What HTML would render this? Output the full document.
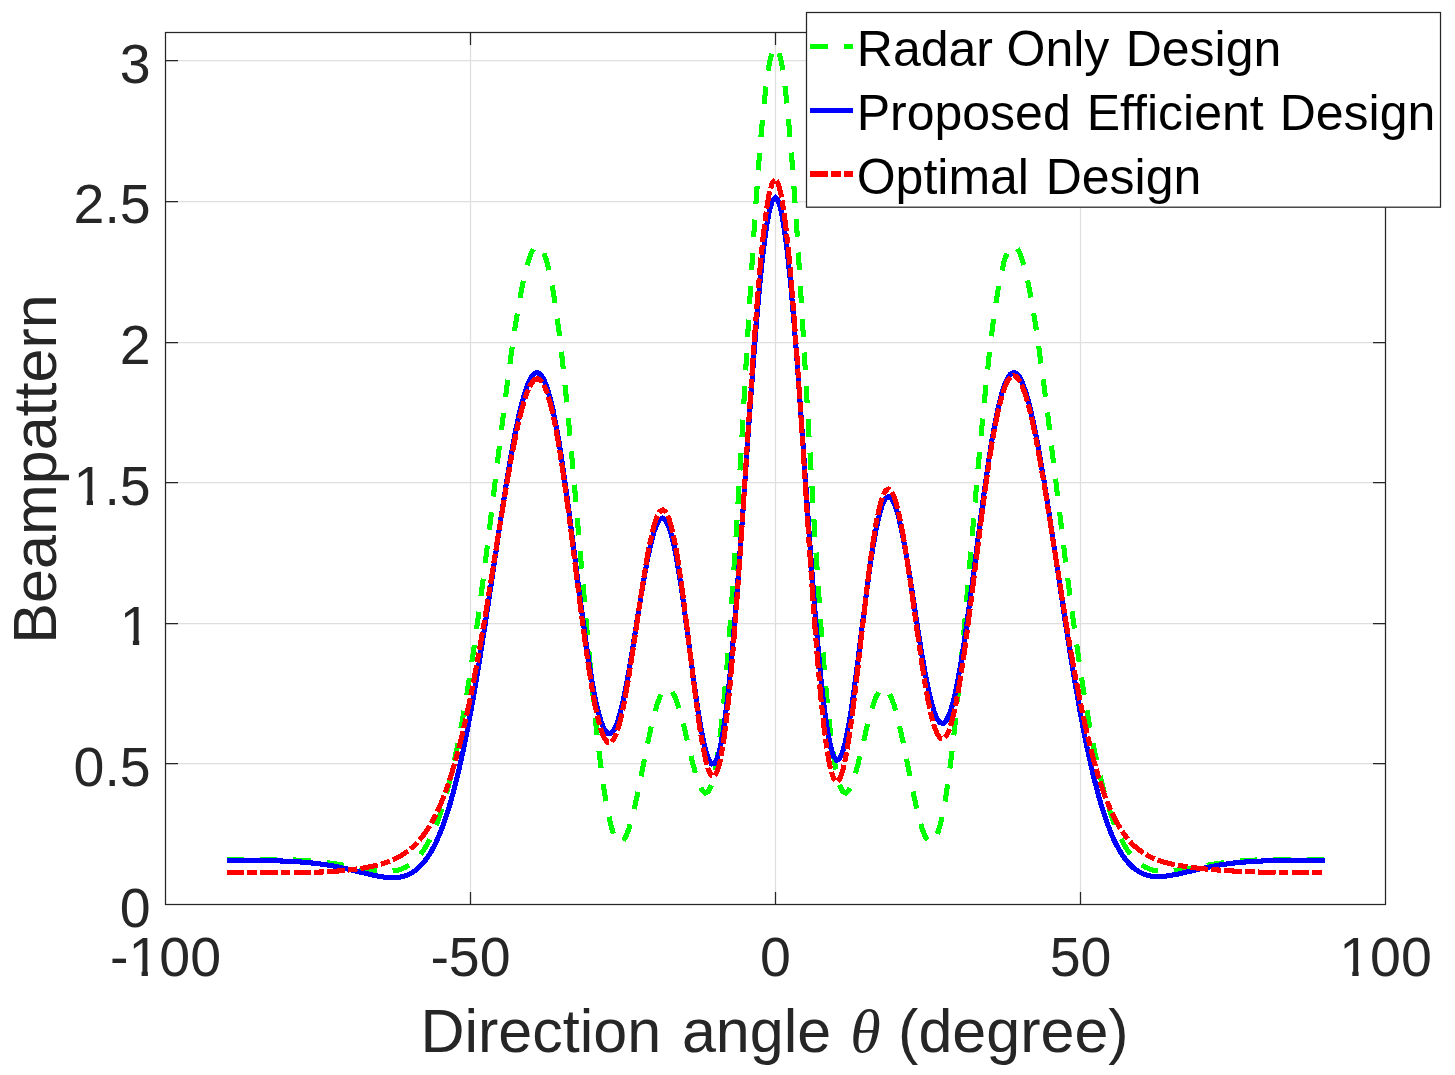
<!DOCTYPE html>
<html lang="en"><head><meta charset="utf-8"><title>Beampattern</title>
<style>
html,body{margin:0;padding:0;background:#fff;}
body{width:1455px;height:1075px;overflow:hidden;}
svg{display:block;}
text{font-family:"Liberation Sans",Arial,Helvetica,sans-serif;}
.tk{font-size:55.5px;fill:#262626;}
.lb{font-size:61px;fill:#262626;}
.lg{font-size:50px;fill:#000;}
.th{font-family:"Liberation Serif","DejaVu Serif",serif;font-style:italic;}
</style></head><body>
<svg width="1455" height="1075" viewBox="0 0 1455 1075">
<rect x="0" y="0" width="1455" height="1075" fill="#fff"/>
<path d="M470.50,32.5 V904.5 M775.50,32.5 V904.5 M1080.50,32.5 V904.5 M165.5,763.50 H1385.5 M165.5,623.50 H1385.5 M165.5,482.50 H1385.5 M165.5,342.50 H1385.5 M165.5,201.50 H1385.5 M165.5,60.50 H1385.5" stroke="#dfdfdf" stroke-width="1.25" fill="none"/>
<g fill="none" stroke-width="5.1" stroke-linejoin="round" stroke-linecap="butt" shape-rendering="crispEdges">
<path d="M226.5,859.2 L229.6,859.2 L232.6,859.2 L235.6,859.2 L238.7,859.2 L241.8,859.2 L244.8,859.2 L247.9,859.2 L250.9,859.2 L254.0,859.2 L257.0,859.2 L260.1,859.2 L263.1,859.2 L266.2,859.3 L269.2,859.3 L272.3,859.3 L275.3,859.4 L278.4,859.4 L281.4,859.5 L284.5,859.6 L287.5,859.7 L290.6,859.8 L293.6,859.9 L296.7,860.1 L299.7,860.2 L302.8,860.4 L305.8,860.6 L308.9,860.8 L311.9,861.1 L315.0,861.3 L318.0,861.6 L321.1,862.0 L324.1,862.3 L327.2,862.7 L330.2,863.1 L333.2,863.5 L336.3,864.0 L339.4,864.5 L342.4,865.0 L345.5,865.5 L348.5,866.0 L351.6,866.6 L354.6,867.2 L357.7,867.7 L360.7,868.3 L363.8,868.9 L366.8,869.4 L369.9,869.9 L372.9,870.3 L376.0,870.7 L379.0,871.1 L382.1,871.3 L385.1,871.4 L388.2,871.4 L391.2,871.2 L394.2,870.8 L397.3,870.2 L400.4,869.4 L403.4,868.2 L406.5,866.7 L409.5,864.9 L412.6,862.6 L415.6,859.9 L418.7,856.6 L421.7,852.7 L424.8,848.3 L427.8,843.1 L430.9,837.2 L433.9,830.5 L437.0,823.0 L440.0,814.5 L443.1,805.1 L446.1,794.7 L449.2,783.2 L452.2,770.6 L455.2,756.8 L458.3,741.9 L461.4,725.9 L464.4,708.7 L467.5,690.3 L470.5,670.8 L473.6,650.2 L476.6,628.6 L479.7,606.1 L482.7,582.7 L485.8,558.6 L488.8,533.9 L491.9,508.8 L494.9,483.6 L497.9,458.3 L501.0,433.2 L504.1,408.5 L507.1,384.6 L510.2,361.7 L513.2,340.0 L516.2,319.9 L519.3,301.6 L522.4,285.5 L525.4,271.7 L528.5,260.6 L531.5,252.4 L534.5,247.4 L537.6,245.6 L540.6,247.2 L543.7,252.4 L546.8,261.2 L549.8,273.5 L552.9,289.4 L555.9,308.8 L559.0,331.3 L562.0,356.9 L565.0,385.1 L568.1,415.8 L571.1,448.4 L574.2,482.5 L577.2,517.6 L580.3,553.3 L583.4,588.9 L586.4,624.0 L589.5,658.0 L592.5,690.3 L595.5,720.5 L598.6,748.1 L601.6,772.6 L604.7,793.8 L607.8,811.4 L610.8,825.1 L613.9,834.9 L616.9,840.8 L620.0,842.8 L623.0,841.2 L626.0,836.1 L629.1,828.1 L632.1,817.4 L635.2,804.7 L638.2,790.4 L641.3,775.2 L644.4,759.7 L647.4,744.5 L650.5,730.1 L653.5,717.2 L656.5,706.3 L659.6,697.6 L662.6,691.6 L665.7,688.5 L668.8,688.4 L671.8,691.2 L674.9,696.7 L677.9,704.8 L681.0,714.9 L684.0,726.6 L687.0,739.3 L690.1,752.2 L693.1,764.5 L696.2,775.6 L699.2,784.6 L702.3,790.7 L705.4,793.2 L708.4,791.4 L711.5,784.8 L714.5,773.0 L717.5,755.5 L720.6,732.4 L723.6,703.7 L726.7,669.4 L729.8,630.2 L732.8,586.4 L735.9,538.9 L738.9,488.5 L742.0,436.1 L745.0,382.9 L748.0,330.0 L751.1,278.6 L754.1,229.9 L757.2,185.0 L760.2,144.9 L763.3,110.7 L766.4,83.2 L769.4,63.0 L772.5,50.7 L775.5,46.5 L778.5,50.7 L781.6,63.0 L784.6,83.2 L787.7,110.7 L790.8,144.9 L793.8,185.0 L796.9,229.9 L799.9,278.6 L803.0,330.0 L806.0,382.9 L809.0,436.1 L812.1,488.5 L815.1,538.9 L818.2,586.4 L821.2,630.2 L824.3,669.4 L827.4,703.7 L830.4,732.4 L833.5,755.5 L836.5,773.0 L839.5,784.8 L842.6,791.4 L845.6,793.2 L848.7,790.7 L851.8,784.6 L854.8,775.6 L857.9,764.5 L860.9,752.2 L864.0,739.3 L867.0,726.6 L870.0,714.9 L873.1,704.8 L876.1,696.7 L879.2,691.2 L882.2,688.4 L885.3,688.5 L888.4,691.6 L891.4,697.6 L894.5,706.3 L897.5,717.2 L900.5,730.1 L903.6,744.5 L906.6,759.7 L909.7,775.2 L912.8,790.4 L915.8,804.7 L918.9,817.4 L921.9,828.1 L925.0,836.1 L928.0,841.2 L931.0,842.8 L934.1,840.8 L937.1,834.9 L940.2,825.1 L943.2,811.4 L946.3,793.8 L949.4,772.6 L952.4,748.1 L955.5,720.5 L958.5,690.3 L961.5,658.0 L964.6,624.0 L967.6,588.9 L970.7,553.3 L973.8,517.6 L976.8,482.5 L979.9,448.4 L982.9,415.8 L986.0,385.1 L989.0,356.9 L992.0,331.3 L995.1,308.8 L998.1,289.4 L1001.2,273.5 L1004.2,261.2 L1007.3,252.4 L1010.4,247.2 L1013.4,245.6 L1016.5,247.4 L1019.5,252.4 L1022.5,260.6 L1025.6,271.7 L1028.7,285.5 L1031.7,301.6 L1034.8,319.9 L1037.8,340.0 L1040.8,361.7 L1043.9,384.6 L1047.0,408.5 L1050.0,433.2 L1053.0,458.3 L1056.1,483.6 L1059.2,508.8 L1062.2,533.9 L1065.2,558.6 L1068.3,582.7 L1071.3,606.1 L1074.4,628.6 L1077.5,650.2 L1080.5,670.8 L1083.5,690.3 L1086.6,708.7 L1089.7,725.9 L1092.7,741.9 L1095.8,756.8 L1098.8,770.6 L1101.8,783.2 L1104.9,794.7 L1108.0,805.1 L1111.0,814.5 L1114.0,823.0 L1117.1,830.5 L1120.2,837.2 L1123.2,843.1 L1126.2,848.3 L1129.3,852.7 L1132.3,856.6 L1135.4,859.9 L1138.5,862.6 L1141.5,864.9 L1144.5,866.7 L1147.6,868.2 L1150.7,869.4 L1153.7,870.2 L1156.8,870.8 L1159.8,871.2 L1162.8,871.4 L1165.9,871.4 L1169.0,871.3 L1172.0,871.1 L1175.0,870.7 L1178.1,870.3 L1181.2,869.9 L1184.2,869.4 L1187.2,868.9 L1190.3,868.3 L1193.3,867.7 L1196.4,867.2 L1199.5,866.6 L1202.5,866.0 L1205.5,865.5 L1208.6,865.0 L1211.7,864.5 L1214.7,864.0 L1217.8,863.5 L1220.8,863.1 L1223.8,862.7 L1226.9,862.3 L1230.0,862.0 L1233.0,861.6 L1236.0,861.3 L1239.1,861.1 L1242.2,860.8 L1245.2,860.6 L1248.2,860.4 L1251.3,860.2 L1254.3,860.1 L1257.4,859.9 L1260.5,859.8 L1263.5,859.7 L1266.5,859.6 L1269.6,859.5 L1272.7,859.4 L1275.7,859.4 L1278.8,859.3 L1281.8,859.3 L1284.8,859.3 L1287.9,859.2 L1290.9,859.2 L1294.0,859.2 L1297.0,859.2 L1300.1,859.2 L1303.2,859.2 L1306.2,859.2 L1309.2,859.2 L1312.3,859.2 L1315.3,859.2 L1318.4,859.2 L1321.4,859.2 L1324.5,859.2" stroke="#00ff00" stroke-dasharray="17.5 15.9"/>
<path d="M226.5,860.5 L229.6,860.5 L232.6,860.5 L235.6,860.5 L238.7,860.5 L241.8,860.5 L244.8,860.5 L247.9,860.5 L250.9,860.5 L254.0,860.5 L257.0,860.5 L260.1,860.5 L263.1,860.6 L266.2,860.6 L269.2,860.7 L272.3,860.7 L275.3,860.8 L278.4,860.9 L281.4,861.0 L284.5,861.1 L287.5,861.2 L290.6,861.3 L293.6,861.5 L296.7,861.7 L299.7,861.9 L302.8,862.1 L305.8,862.4 L308.9,862.6 L311.9,863.0 L315.0,863.3 L318.0,863.7 L321.1,864.1 L324.1,864.5 L327.2,865.0 L330.2,865.5 L333.2,866.0 L336.3,866.6 L339.4,867.2 L342.4,867.9 L345.5,868.5 L348.5,869.2 L351.6,869.9 L354.6,870.7 L357.7,871.4 L360.7,872.2 L363.8,872.9 L366.8,873.7 L369.9,874.4 L372.9,875.1 L376.0,875.7 L379.0,876.3 L382.1,876.8 L385.1,877.2 L388.2,877.5 L391.2,877.6 L394.2,877.6 L397.3,877.4 L400.4,877.0 L403.4,876.3 L406.5,875.3 L409.5,874.0 L412.6,872.3 L415.6,870.2 L418.7,867.7 L421.7,864.6 L424.8,861.0 L427.8,856.8 L430.9,852.0 L433.9,846.5 L437.0,840.2 L440.0,833.1 L443.1,825.3 L446.1,816.5 L449.2,806.9 L452.2,796.3 L455.2,784.8 L458.3,772.4 L461.4,758.9 L464.4,744.5 L467.5,729.2 L470.5,712.9 L473.6,695.8 L476.6,677.9 L479.7,659.2 L482.7,639.9 L485.8,620.0 L488.8,599.8 L491.9,579.3 L494.9,558.7 L497.9,538.1 L501.0,517.8 L504.1,498.0 L507.1,478.9 L510.2,460.6 L513.2,443.5 L516.2,427.8 L519.3,413.6 L522.4,401.2 L525.4,390.8 L528.5,382.5 L531.5,376.7 L534.5,373.3 L537.6,372.6 L540.6,374.5 L543.7,379.2 L546.8,386.6 L549.8,396.7 L552.9,409.4 L555.9,424.5 L559.0,441.9 L562.0,461.2 L565.0,482.3 L568.1,504.7 L571.1,528.1 L574.2,552.1 L577.2,576.3 L580.3,600.2 L583.4,623.4 L586.4,645.3 L589.5,665.7 L592.5,684.0 L595.5,699.9 L598.6,713.0 L601.6,723.1 L604.7,730.0 L607.8,733.5 L610.8,733.5 L613.9,730.2 L616.9,723.6 L620.0,714.0 L623.0,701.5 L626.0,686.7 L629.1,669.9 L632.1,651.7 L635.2,632.6 L638.2,613.2 L641.3,594.2 L644.4,576.1 L647.4,559.6 L650.5,545.2 L653.5,533.4 L656.5,524.7 L659.6,519.5 L662.6,518.0 L665.7,520.3 L668.8,526.5 L671.8,536.4 L674.9,549.8 L677.9,566.4 L681.0,585.6 L684.0,606.9 L687.0,629.6 L690.1,652.8 L693.1,675.9 L696.2,697.9 L699.2,718.1 L702.3,735.5 L705.4,749.4 L708.4,759.1 L711.5,764.0 L714.5,763.7 L717.5,757.8 L720.6,746.1 L723.6,728.7 L726.7,705.7 L729.8,677.5 L732.8,644.5 L735.9,607.5 L738.9,567.3 L742.0,524.7 L745.0,480.8 L748.0,436.7 L751.1,393.4 L754.1,352.2 L757.2,314.0 L760.2,279.8 L763.3,250.7 L766.4,227.3 L769.4,210.3 L772.5,200.2 L775.5,197.2 L778.5,201.4 L781.6,212.6 L784.6,230.7 L787.7,255.1 L790.8,285.1 L793.8,320.0 L796.9,358.7 L799.9,400.4 L803.0,443.8 L806.0,487.9 L809.0,531.5 L812.1,573.7 L815.1,613.3 L818.2,649.4 L821.2,681.4 L824.3,708.4 L827.4,730.0 L830.4,746.0 L833.5,756.0 L836.5,760.3 L839.5,758.9 L842.6,752.3 L845.6,740.9 L848.7,725.3 L851.8,706.2 L854.8,684.6 L857.9,661.1 L860.9,636.7 L864.0,612.3 L867.0,588.5 L870.0,566.4 L873.1,546.4 L876.1,529.2 L879.2,515.4 L882.2,505.2 L885.3,498.9 L888.4,496.6 L891.4,498.2 L894.5,503.7 L897.5,512.8 L900.5,525.0 L903.6,540.0 L906.6,557.1 L909.7,575.9 L912.8,595.6 L915.8,615.8 L918.9,635.7 L921.9,654.7 L925.0,672.2 L928.0,687.8 L931.0,701.0 L934.1,711.5 L937.1,718.8 L940.2,722.8 L943.2,723.4 L946.3,720.6 L949.4,714.3 L952.4,704.8 L955.5,692.3 L958.5,677.0 L961.5,659.2 L964.6,639.4 L967.6,617.9 L970.7,595.2 L973.8,571.8 L976.8,548.0 L979.9,524.4 L982.9,501.4 L986.0,479.4 L989.0,458.7 L992.0,439.7 L995.1,422.7 L998.1,407.9 L1001.2,395.5 L1004.2,385.8 L1007.3,378.6 L1010.4,374.2 L1013.4,372.5 L1016.5,373.5 L1019.5,377.0 L1022.5,383.1 L1025.6,391.5 L1028.7,402.0 L1031.7,414.6 L1034.8,428.9 L1037.8,444.8 L1040.8,462.0 L1043.9,480.3 L1047.0,499.4 L1050.0,519.3 L1053.0,539.6 L1056.1,560.1 L1059.2,580.7 L1062.2,601.1 L1065.2,621.3 L1068.3,641.1 L1071.3,660.3 L1074.4,678.9 L1077.5,696.8 L1080.5,713.8 L1083.5,729.9 L1086.6,745.2 L1089.7,759.5 L1092.7,772.8 L1095.8,785.1 L1098.8,796.5 L1101.8,807.0 L1104.9,816.5 L1108.0,825.1 L1111.0,832.9 L1114.0,839.9 L1117.1,846.0 L1120.2,851.5 L1123.2,856.2 L1126.2,860.4 L1129.3,863.9 L1132.3,866.9 L1135.4,869.4 L1138.5,871.4 L1141.5,873.1 L1144.5,874.3 L1147.6,875.3 L1150.7,876.0 L1153.7,876.4 L1156.8,876.6 L1159.8,876.6 L1162.8,876.4 L1165.9,876.1 L1169.0,875.7 L1172.0,875.2 L1175.0,874.6 L1178.1,874.0 L1181.2,873.3 L1184.2,872.6 L1187.2,871.9 L1190.3,871.2 L1193.3,870.5 L1196.4,869.7 L1199.5,869.0 L1202.5,868.4 L1205.5,867.7 L1208.6,867.1 L1211.7,866.5 L1214.7,865.9 L1217.8,865.3 L1220.8,864.8 L1223.8,864.4 L1226.9,863.9 L1230.0,863.5 L1233.0,863.1 L1236.0,862.8 L1239.1,862.5 L1242.2,862.2 L1245.2,862.0 L1248.2,861.7 L1251.3,861.5 L1254.3,861.3 L1257.4,861.2 L1260.5,861.1 L1263.5,860.9 L1266.5,860.8 L1269.6,860.8 L1272.7,860.7 L1275.7,860.6 L1278.8,860.6 L1281.8,860.5 L1284.8,860.5 L1287.9,860.5 L1290.9,860.5 L1294.0,860.5 L1297.0,860.5 L1300.1,860.4 L1303.2,860.4 L1306.2,860.4 L1309.2,860.4 L1312.3,860.4 L1315.3,860.5 L1318.4,860.5 L1321.4,860.5 L1324.5,860.5" stroke="#0000ff"/>
<path d="M226.5,872.6 L229.6,872.6 L232.6,872.6 L235.6,872.6 L238.7,872.6 L241.8,872.7 L244.8,872.7 L247.9,872.7 L250.9,872.7 L254.0,872.7 L257.0,872.7 L260.1,872.7 L263.1,872.7 L266.2,872.7 L269.2,872.7 L272.3,872.7 L275.3,872.7 L278.4,872.7 L281.4,872.7 L284.5,872.7 L287.5,872.7 L290.6,872.7 L293.6,872.7 L296.7,872.6 L299.7,872.6 L302.8,872.5 L305.8,872.5 L308.9,872.4 L311.9,872.3 L315.0,872.2 L318.0,872.1 L321.1,872.0 L324.1,871.9 L327.2,871.7 L330.2,871.5 L333.2,871.4 L336.3,871.1 L339.4,870.9 L342.4,870.6 L345.5,870.4 L348.5,870.0 L351.6,869.7 L354.6,869.3 L357.7,868.9 L360.7,868.5 L363.8,868.0 L366.8,867.4 L369.9,866.8 L372.9,866.2 L376.0,865.4 L379.0,864.6 L382.1,863.8 L385.1,862.8 L388.2,861.7 L391.2,860.5 L394.2,859.2 L397.3,857.7 L400.4,856.0 L403.4,854.1 L406.5,852.1 L409.5,849.7 L412.6,847.1 L415.6,844.2 L418.7,841.0 L421.7,837.4 L424.8,833.4 L427.8,828.9 L430.9,823.9 L433.9,818.4 L437.0,812.3 L440.0,805.6 L443.1,798.2 L446.1,790.1 L449.2,781.3 L452.2,771.7 L455.2,761.3 L458.3,750.1 L461.4,738.1 L464.4,725.1 L467.5,711.4 L470.5,696.8 L473.6,681.4 L476.6,665.2 L479.7,648.3 L482.7,630.8 L485.8,612.7 L488.8,594.1 L491.9,575.3 L494.9,556.3 L497.9,537.2 L501.0,518.3 L504.1,499.7 L507.1,481.7 L510.2,464.4 L513.2,448.1 L516.2,433.0 L519.3,419.3 L522.4,407.3 L525.4,397.1 L528.5,389.0 L531.5,383.1 L534.5,379.7 L537.6,378.7 L540.6,380.4 L543.7,384.8 L546.8,391.9 L549.8,401.7 L552.9,414.1 L555.9,429.0 L559.0,446.1 L562.0,465.4 L565.0,486.4 L568.1,508.9 L571.1,532.5 L574.2,556.7 L577.2,581.2 L580.3,605.5 L583.4,629.2 L586.4,651.6 L589.5,672.5 L592.5,691.3 L595.5,707.7 L598.6,721.3 L601.6,731.7 L604.7,738.9 L607.8,742.5 L610.8,742.5 L613.9,739.0 L616.9,732.0 L620.0,721.7 L623.0,708.6 L626.0,692.8 L629.1,674.9 L632.1,655.4 L635.2,635.0 L638.2,614.2 L641.3,593.6 L644.4,574.1 L647.4,556.1 L650.5,540.4 L653.5,527.5 L656.5,517.8 L659.6,511.8 L662.6,509.8 L665.7,511.9 L668.8,518.1 L671.8,528.4 L674.9,542.5 L677.9,560.1 L681.0,580.6 L684.0,603.4 L687.0,627.8 L690.1,652.9 L693.1,677.9 L696.2,701.9 L699.2,724.0 L702.3,743.2 L705.4,758.8 L708.4,769.9 L711.5,775.9 L714.5,776.3 L717.5,770.8 L720.6,759.1 L723.6,741.2 L726.7,717.3 L729.8,687.7 L732.8,653.1 L735.9,614.0 L738.9,571.4 L742.0,526.3 L745.0,479.7 L748.0,432.8 L751.1,386.8 L754.1,343.0 L757.2,302.4 L760.2,266.1 L763.3,235.2 L766.4,210.5 L769.4,192.7 L772.5,182.2 L775.5,179.4" stroke="#ff0000" stroke-dasharray="17.60 3.15 9.64 3.15"/>
<path d="M775.5,179.4 L778.5,184.3 L781.6,196.9 L784.6,216.8 L787.7,243.4 L790.8,276.0 L793.8,313.8 L796.9,355.7 L799.9,400.7 L803.0,447.5 L806.0,494.9 L809.0,541.8 L812.1,586.9 L815.1,629.2 L818.2,667.6 L821.2,701.4 L824.3,729.8 L827.4,752.2 L830.4,768.5 L833.5,778.4 L836.5,781.9 L839.5,779.4 L842.6,771.1 L845.6,757.7 L848.7,739.9 L851.8,718.4 L854.8,694.1 L857.9,668.0 L860.9,640.9 L864.0,614.0 L867.0,587.9 L870.0,563.6 L873.1,541.9 L876.1,523.3 L879.2,508.4 L882.2,497.6 L885.3,491.0 L888.4,488.9 L891.4,491.1 L894.5,497.4 L897.5,507.7 L900.5,521.4 L903.6,538.0 L906.6,557.0 L909.7,577.7 L912.8,599.4 L915.8,621.5 L918.9,643.2 L921.9,664.0 L925.0,683.2 L928.0,700.1 L931.0,714.5 L934.1,725.8 L937.1,733.8 L940.2,738.2 L943.2,738.9 L946.3,736.0 L949.4,729.4 L952.4,719.4 L955.5,706.1 L958.5,689.9 L961.5,671.2 L964.6,650.3 L967.6,627.8 L970.7,604.0 L973.8,579.5 L976.8,554.8 L979.9,530.3 L982.9,506.5 L986.0,483.7 L989.0,462.5 L992.0,443.0 L995.1,425.7 L998.1,410.7 L1001.2,398.3 L1004.2,388.5 L1007.3,381.4 L1010.4,377.1 L1013.4,375.6 L1016.5,376.8 L1019.5,380.6 L1022.5,386.8 L1025.6,395.3 L1028.7,406.0 L1031.7,418.5 L1034.8,432.7 L1037.8,448.3 L1040.8,465.2 L1043.9,483.0 L1047.0,501.6 L1050.0,520.7 L1053.0,540.2 L1056.1,559.7 L1059.2,579.2 L1062.2,598.5 L1065.2,617.5 L1068.3,635.9 L1071.3,653.8 L1074.4,670.9 L1077.5,687.3 L1080.5,702.9 L1083.5,717.6 L1086.6,731.4 L1089.7,744.4 L1092.7,756.4 L1095.8,767.5 L1098.8,777.8 L1101.8,787.2 L1104.9,795.9 L1108.0,803.7 L1111.0,810.8 L1114.0,817.2 L1117.1,823.0 L1120.2,828.2 L1123.2,832.9 L1126.2,837.0 L1129.3,840.7 L1132.3,844.0 L1135.4,846.9 L1138.5,849.4 L1141.5,851.7 L1144.5,853.7 L1147.6,855.5 L1150.7,857.1 L1153.7,858.4 L1156.8,859.7 L1159.8,860.8 L1162.8,861.7 L1165.9,862.6 L1169.0,863.4 L1172.0,864.1 L1175.0,864.7 L1178.1,865.3 L1181.2,865.8 L1184.2,866.3 L1187.2,866.8 L1190.3,867.2 L1193.3,867.6 L1196.4,868.0 L1199.5,868.3 L1202.5,868.7 L1205.5,869.0 L1208.6,869.2 L1211.7,869.5 L1214.7,869.8 L1217.8,870.0 L1220.8,870.2 L1223.8,870.4 L1226.9,870.6 L1230.0,870.8 L1233.0,871.0 L1236.0,871.2 L1239.1,871.3 L1242.2,871.4 L1245.2,871.6 L1248.2,871.7 L1251.3,871.8 L1254.3,871.9 L1257.4,872.0 L1260.5,872.1 L1263.5,872.1 L1266.5,872.2 L1269.6,872.3 L1272.7,872.3 L1275.7,872.4 L1278.8,872.4 L1281.8,872.4 L1284.8,872.5 L1287.9,872.5 L1290.9,872.5 L1294.0,872.5 L1297.0,872.6 L1300.1,872.6 L1303.2,872.6 L1306.2,872.6 L1309.2,872.6 L1312.3,872.6 L1315.3,872.6 L1318.4,872.6 L1321.4,872.6 L1324.5,872.6" stroke="#ff0000" stroke-dasharray="17.71 3.17 9.70 3.17" stroke-dashoffset="32.24"/>
</g>
<path d="M470.50,904.5 v-12.5 M470.50,32.5 v12.5 M775.50,904.5 v-12.5 M775.50,32.5 v12.5 M1080.50,904.5 v-12.5 M1080.50,32.5 v12.5 M165.5,763.50 h12.5 M1385.5,763.50 h-12.5 M165.5,623.50 h12.5 M1385.5,623.50 h-12.5 M165.5,482.50 h12.5 M1385.5,482.50 h-12.5 M165.5,342.50 h12.5 M1385.5,342.50 h-12.5 M165.5,201.50 h12.5 M1385.5,201.50 h-12.5 M165.5,60.50 h12.5 M1385.5,60.50 h-12.5" stroke="#262626" stroke-width="1.25" fill="none"/>
<rect x="165.5" y="32.5" width="1220.0" height="872.0" fill="none" stroke="#262626" stroke-width="1.25"/>
<text class="tk" x="165.5" y="976" text-anchor="middle">-100</text>
<text class="tk" x="470.5" y="976" text-anchor="middle">-50</text>
<text class="tk" x="775.5" y="976" text-anchor="middle">0</text>
<text class="tk" x="1080.5" y="976" text-anchor="middle">50</text>
<text class="tk" x="1385.5" y="976" text-anchor="middle">100</text>
<text class="tk" x="150.7" y="926.5" text-anchor="end">0</text>
<text class="tk" x="150.7" y="785.9" text-anchor="end">0.5</text>
<text class="tk" x="150.7" y="645.2" text-anchor="end">1</text>
<text class="tk" x="150.7" y="504.6" text-anchor="end">1.5</text>
<text class="tk" x="150.7" y="363.9" text-anchor="end">2</text>
<text class="tk" x="150.7" y="223.3" text-anchor="end">2.5</text>
<text class="tk" x="150.7" y="82.6" text-anchor="end">3</text>
<rect x="123.0" y="639.5" width="9.9" height="6.6" fill="#fff"/><rect x="139.2" y="639.5" width="10.2" height="6.6" fill="#fff"/>
<rect x="76.8" y="498.9" width="9.9" height="6.6" fill="#fff"/><rect x="93.0" y="498.9" width="10.2" height="6.6" fill="#fff"/>
<rect x="131.7" y="970.3" width="9.9" height="6.6" fill="#fff"/><rect x="147.9" y="970.3" width="10.2" height="6.6" fill="#fff"/>
<rect x="1342.4" y="970.3" width="9.9" height="6.6" fill="#fff"/><rect x="1358.6" y="970.3" width="10.2" height="6.6" fill="#fff"/>
<text class="lb" y="1051.8"><tspan x="420.4">Direction </tspan><tspan x="681.9">angle </tspan><tspan class="th" x="850.2" font-size="62">θ</tspan><tspan> </tspan><tspan x="898.1">(degree)</tspan></text>
<text class="lb" transform="translate(56,469) rotate(-90)" text-anchor="middle">Beampattern</text>
<rect x="806.5" y="12.5" width="634" height="194.7" fill="#fff" stroke="#262626" stroke-width="1.25"/>
<g fill="none" stroke-width="5.3" shape-rendering="crispEdges">
<path d="M810,46.5 H853.2" stroke="#00ff00" stroke-dasharray="18 16.1"/>
<path d="M810,110.4 H853.2" stroke="#0000ff"/>
<path d="M810,174.1 H853.2" stroke="#ff0000" stroke-dasharray="17.9 3.2 9.8 3.2"/>
</g>
<text class="lg" y="66.1"><tspan x="856.8">Radar </tspan><tspan x="1006.5">Only </tspan><tspan x="1125.7">Design</tspan></text>
<text class="lg" y="129.9"><tspan x="856.7">Proposed </tspan><tspan x="1086.7">Efficient </tspan><tspan x="1279.7">Design</tspan></text>
<text class="lg" y="194.2"><tspan x="856.7">Optimal </tspan><tspan x="1045.7">Design</tspan></text>
</svg></body></html>
